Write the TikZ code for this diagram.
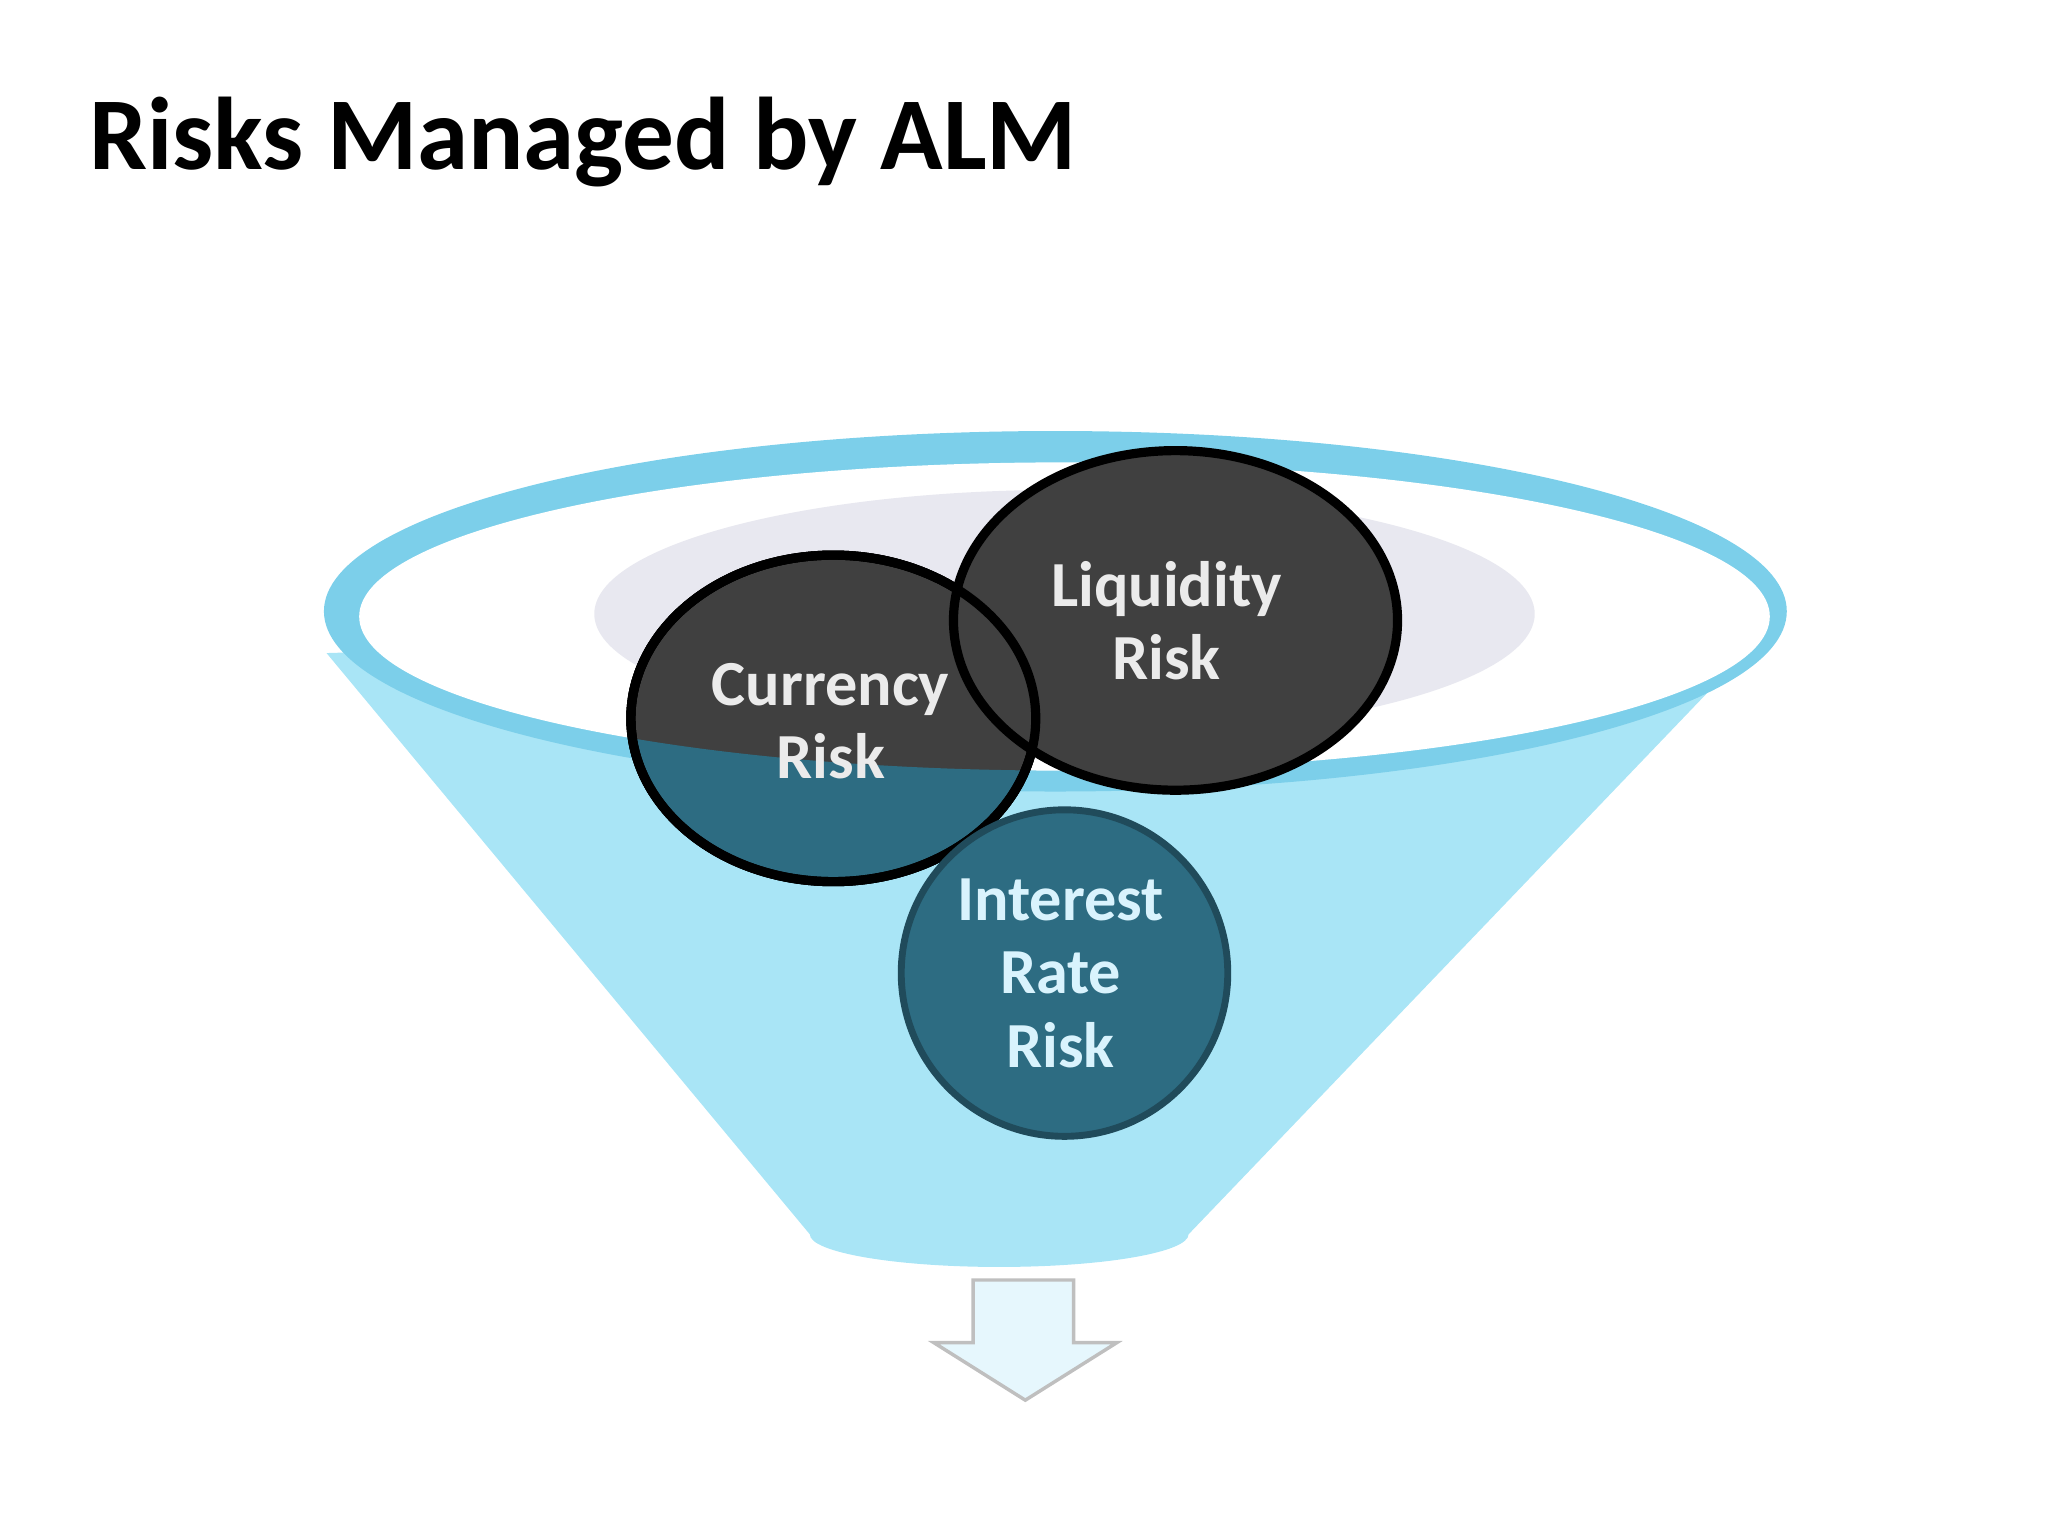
\documentclass[tikz,border=0pt]{standalone}
\usepackage{fontspec}
\setmainfont{Carlito}
\begin{document}
\begin{tikzpicture}[x=0.02cm,y=-0.02cm,
 lbl/.style={font=\bfseries\fontsize{28}{32}\selectfont,align=center},
 dark/.style={fill=black!75,draw=black,line width=4pt}]
\useasboundingbox (0,0) rectangle (1568,1176);
\definecolor{funnel}{HTML}{A9E5F6}
\definecolor{rim}{HTML}{7CCFEA}
\definecolor{teal1}{HTML}{2D6C82}
\node[anchor=base west,font=\bfseries\fontsize{45}{50}\selectfont] (title) at (62,130) {Risks Managed by ALM};
% funnel body
\fill[funnel] (250,500) -- (620,945) arc[start angle=180,end angle=0,x radius=145,y radius=25] -- (1367,468) -- cycle;
\fill[rim] (808,468) ellipse[x radius=560,y radius=138];
\fill[white] (815,472) ellipse[x radius=540,y radius=118];
\fill[blue!20!gray!15] (815,470) ellipse[x radius=360,y radius=95];
% circles
\draw[dark] (638,550) ellipse[x radius=155,y radius=125];
\begin{scope}
\clip (638,550) ellipse[x radius=155,y radius=125];
\fill[teal1,even odd rule] (400,400) rectangle (900,700) (815,472) ellipse[x radius=540,y radius=118];
\end{scope}
\draw[black,line width=4pt] (638,550) ellipse[x radius=155,y radius=125];
\draw[dark] (900,475) ellipse[x radius=170,y radius=130];
\draw[black,line width=4pt] (638,550) ellipse[x radius=155,y radius=125];
\fill[teal1] (815,745) circle[radius=125];
\draw[teal1!70!black,line width=3pt] (815,745) circle[radius=125];
\node[lbl,text=white!92!black] (cur) at (636,552) {Currency\\Risk};
\node[lbl,text=white!92!black] (liq) at (893,475) {Liquidity\\Risk};
\node[lbl,text=cyan!15] (int) at (812,745) {Interest\\Rate\\Risk};
% arrow
\draw[fill=cyan!10,draw=gray!50,line width=1.5pt] (745,980) -- (822,980) -- (822,1028) -- (855,1028) -- (785,1072) -- (715,1028) -- (745,1028) -- cycle;
\end{tikzpicture}
\end{document}
